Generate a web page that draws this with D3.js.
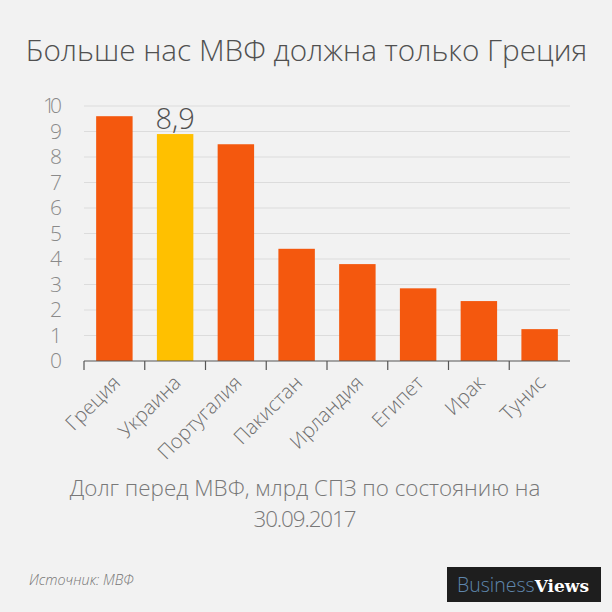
<!DOCTYPE html>
<html>
<head>
<meta charset="utf-8">
<script src="https://cdn.jsdelivr.net/npm/d3@7"></script>
<style>
  html, body { margin: 0; padding: 0; background: #f2f2f2; }
  svg { display: block; }
  text { font-family: "Open Sans", sans-serif; font-weight: 300; }
</style>
</head>
<body>
<div id="chart"></div>
<script>
const countries = ["Греция", "Украина", "Португалия", "Пакистан", "Ирландия", "Египет", "Ирак", "Тунис"];
const debts = [9.6, 8.9, 8.5, 4.4, 3.8, 2.85, 2.35, 1.25];
const yTicks = [0, 1, 2, 3, 4, 5, 6, 7, 8, 9, 10];
const highlighted = "Украина";
const highlightLabel = "8,9";
const title = "Больше нас МВФ должна только Греция";
const subtitle = ["Долг перед МВФ, млрд СПЗ по состоянию на", "30.09.2017"];
const source = "Источник: МВФ";

const svg = d3.select("#chart").append("svg").attr("width", 612).attr("height", 612);

const x = d3.scaleBand().domain(countries).range([84, 570]).paddingInner(0.4).paddingOuter(0.2);
const y = d3.scaleLinear().domain([0, 10]).range([361, 106]);

svg.append("text")
  .attr("x", 306.5).attr("y", 61)
  .attr("text-anchor", "middle")
  .attr("font-size", 29.7)
  .attr("fill", "#505050")
  .text(title);

// gridlines first, bars sit on top
svg.append("g").selectAll("line")
  .data(yTicks.filter(d => d > 0))
  .join("line")
  .attr("x1", 84).attr("x2", 570)
  .attr("y1", d => y(d)).attr("y2", d => y(d))
  .attr("stroke", "#dcdcdc");

svg.append("g").selectAll("rect")
  .data(countries)
  .join("rect")
  .attr("x", d => x(d))
  .attr("width", x.bandwidth())
  .attr("y", (d, i) => y(debts[i]))
  .attr("height", (d, i) => y(0) - y(debts[i]))
  .attr("fill", d => d === highlighted ? "#ffc000" : "#f4580e");

// y labels
const yAxis = d3.axisLeft(y).tickValues(yTicks).tickSize(0).tickPadding(22);
svg.append("g")
  .attr("transform", "translate(84,0)")
  .call(yAxis)
  .call(g => g.select(".domain").remove())
  .selectAll("text")
  .attr("font-size", 21)
  .attr("fill", "#8a8a8a")
  .attr("font-family", "'Open Sans', sans-serif")
  .attr("textLength", d => d === 10 ? 19 : null);

// x axis line and ticks on band edges
const edges = d3.range(countries.length).map(i => x(countries[i]) - x.step() * 0.2);
const axisG = svg.append("g");
axisG.append("line")
  .attr("x1", 84).attr("x2", 570)
  .attr("y1", y(0)).attr("y2", y(0))
  .attr("stroke", "#555").attr("stroke-width", 1.2);
axisG.selectAll(".tick")
  .data(edges)
  .join("line")
  .attr("class", "tick")
  .attr("x1", d => d).attr("x2", d => d)
  .attr("y1", y(0)).attr("y2", y(0) + 9)
  .attr("stroke", "#555").attr("stroke-width", 1.2);

svg.append("g").selectAll("text")
  .data(countries)
  .join("text")
  .attr("text-anchor", "end")
  .attr("font-size", 20)
  .attr("fill", "#6e6e6e")
  .attr("transform", d => `translate(${x(d) + x.bandwidth() / 2 + 7},${y(0) + 23}) rotate(-45)`)
  .text(d => d);

svg.append("text")
  .attr("x", x(highlighted) + x.bandwidth() / 2)
  .attr("y", y(debts[countries.indexOf(highlighted)]) - 5)
  .attr("text-anchor", "middle")
  .attr("font-size", 29)
  .attr("fill", "#505050")
  .text(highlightLabel);

svg.append("g").selectAll("text")
  .data(subtitle)
  .join("text")
  .attr("x", 305)
  .attr("y", (d, i) => 496 + i * 31)
  .attr("text-anchor", "middle")
  .attr("font-size", 22.4)
  .attr("fill", "#787878")
  .attr("textLength", (d, i) => i === 1 ? 103 : null)
  .text(d => d);

svg.append("text")
  .attr("x", 29).attr("y", 585)
  .attr("font-size", 14.3)
  .attr("font-style", "italic")
  .attr("fill", "#777")
  .text(source);

// logo
svg.append("rect")
  .attr("x", 447).attr("y", 567).attr("width", 154).attr("height", 35)
  .attr("fill", "#1e1e1e");
const logo = svg.append("text").attr("x", 457).attr("y", 592).attr("font-size", 19.5);
logo.append("tspan").attr("fill", "#5f86ad").text("Business");
logo.append("tspan").attr("fill", "#fff").style("font-family", "'DejaVu Serif', serif").style("font-weight", 700).attr("font-size", 17).text("Views");
</script>
</body>
</html>
